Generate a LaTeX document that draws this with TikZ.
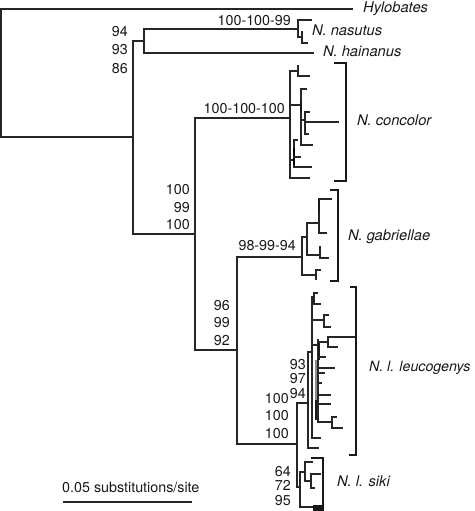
\documentclass[tikz,border=0pt]{standalone}
\usepackage{fontspec}
\setmainfont{TeX Gyre Heros}
\begin{document}
\begin{tikzpicture}[x=1pt,y=-1pt,
  br/.style={line width=1.5pt, draw=black!85, line cap=rect},
  bk/.style={line width=2.6pt, draw=black!90},
  thick2/.style={line width=2.6pt, draw=black!90},
  num/.style={font=\fontsize{14.3}{14}\selectfont, inner sep=0pt, anchor=mid east, text=black!90},
  sp/.style={font=\fontsize{14.7}{14}\selectfont\itshape, inner sep=0pt, anchor=mid west, text=black!90}]
\useasboundingbox (0,0) rectangle (474,511);

% ---- main backbone
\coordinate (root) at (1,137);
\coordinate (A) at (133,137);
\draw[br] (352,9) -- (1,9) -- (root) -- (A);
\draw[br] (133,41) -- (133,234);
\draw[br] (133,41) -- (144,41);
\draw[br] (298,29) -- (144,29) -- (144,53) -- (313,53);
\draw[br] (311,20) -- (298,20) -- (298,37) -- (302,37);
\draw[br] (302,32) -- (302,43) -- (307,43);
\draw[br] (133,234) -- (195,234);
\draw[br] (290,118) -- (195,118) -- (195,350) -- (237,350);
\draw[br] (302,257) -- (237,257) -- (237,444) -- (297,444);

% ---- concolor
\draw[br] (298,71) -- (290,71) -- (290,178) -- (309,178);
\draw[br] (309,76) -- (298,76) -- (298,66);
\draw[br] (290,105) -- (301,105);
\draw[br] (306,89) -- (301,89) -- (301,145) -- (312,145);
\draw[thick2] (301,102) -- (301,112);
\draw[br] (301,120) -- (305,120);
\draw[br] (309,112) -- (305,112) -- (305,134) -- (308,134);
\draw[br] (305,122) -- (338,122);
\draw[br] (290,160) -- (294,160);
\draw[br] (297,140) -- (294,140) -- (294,167) -- (311,167);
\draw[line width=2.2pt] (294,148) -- (294,165);
\draw[br] (294,157) -- (300,157);
\draw[bk] (334,63) -- (346,63) -- (346,181) -- (334,181);

% ---- gabriellae
\draw[br] (307,237) -- (302,237) -- (302,275) -- (316,275);
\draw[br] (319,223) -- (307,223) -- (307,255) -- (320,255);
\draw[br] (331,199) -- (319,199) -- (319,233) -- (326,233);
\draw[thick2] (319,199) -- (319,212);
\draw[br] (320,247) -- (320,258) -- (328,258);
\draw[br] (320,270) -- (316,270) -- (316,279);
\draw[bk] (330,190) -- (338,190) -- (338,281) -- (330,281);

% ---- leucogenys
\draw[br] (308,403) -- (297,403) -- (297,487) -- (300,487);
\draw[br] (312,352) -- (308,352) -- (308,448) -- (318,448);
\draw[br] (314,297) -- (312,297) -- (312,438) -- (320,438);
\draw[br] (317,293) -- (314,293) -- (314,304) -- (320,304);
\draw[br] (312,320) -- (324,320);
\draw[br] (328,315) -- (324,315) -- (324,327) -- (330,327);
\draw[br] (312,345) -- (318,345);
\draw[br] (318,340) -- (318,422) -- (332,422);
\draw[thick2] (319,342) -- (319,360);
\draw[line width=2.6pt, draw=black!45] (316,360) -- (316,400);
\draw[thick2] (316,400) -- (316,420);
\draw[br] (318,342) -- (328,342);
\draw[br] (356,337) -- (328,337) -- (328,347) -- (337,347);
\draw[br] (318,357) -- (325,357);
\draw[br] (318,368) -- (334,368);
\draw[br] (318,373) -- (324,373);
\draw[br] (318,383) -- (321,383);
\draw[br] (318,395) -- (330,395);
\draw[br] (318,404) -- (330,404);
\draw[br] (336,417) -- (332,417) -- (332,428) -- (342,428);
\draw[bk] (350,287) -- (356,287) -- (356,455) -- (349,455);

% ---- siki
\draw[br] (305,472) -- (300,472) -- (300,507) -- (316,507);
\draw[br] (312,462) -- (305,462) -- (305,481) -- (311,481);
\draw[br] (320,474) -- (311,474) -- (311,488) -- (314,488);
\draw[bk] (311,458) -- (323,458) -- (323,511);
\fill[black!90] (313,505) rectangle (324,511);

% ---- taxon labels
\node[sp] (hyl) at (363,10) {Hylobates};
\node[sp] (nas) at (312,33) {N. nasutus};
\node[sp] (hai) at (323,54) {N. hainanus};
\node[sp] (con) at (357,123) {N. concolor};
\node[sp] (gab) at (348,238) {N. gabriellae};
\node[sp, font=\fontsize{14.2}{14}\selectfont\itshape] (leu) at (369,369) {N. l. leucogenys};
\node[sp] (sik) at (337,484) {N. l. siki};

% ---- support values
\node[num] (s1a) at (128,34) {94};
\node[num] (s1b) at (128,52) {93};
\node[num] (s1c) at (128,71) {86};
\node[num] (s2) at (291,23) {100-100-99};
\node[num] (s3) at (285,111) {100-100-100};
\node[num] (s4a) at (190,192) {100};
\node[num] (s4b) at (190,210) {99};
\node[num] (s4c) at (190,227) {100};
\node[num] (s5) at (296,248) {98-99-94};
\node[num] (s6a) at (230,308) {96};
\node[num] (s6b) at (230,325) {99};
\node[num] (s6c) at (230,343) {92};
\node[num] (s7a) at (306,367) {93};
\node[num] (s7b) at (306,381) {97};
\node[num] (s7c) at (306,396) {94};
\node[num] (s8a) at (289,401) {100};
\node[num] (s8b) at (289,418) {100};
\node[num] (s8c) at (289,436) {100};
\node[num] (s9a) at (291,474) {64};
\node[num] (s9b) at (291,488) {72};
\node[num] (s9c) at (291,503) {95};

% ---- scale bar
\node[font=\fontsize{14.3}{14}\selectfont, inner sep=0pt, anchor=mid west, text=black!90] (sc) at (62,490) {0.05 substitutions/site};
\coordinate (sbL) at (63,502);
\coordinate (sbR) at (192,502);
\draw[line width=1.8pt, black!85] (sbL) -- (sbR);
\end{tikzpicture}
\end{document}
